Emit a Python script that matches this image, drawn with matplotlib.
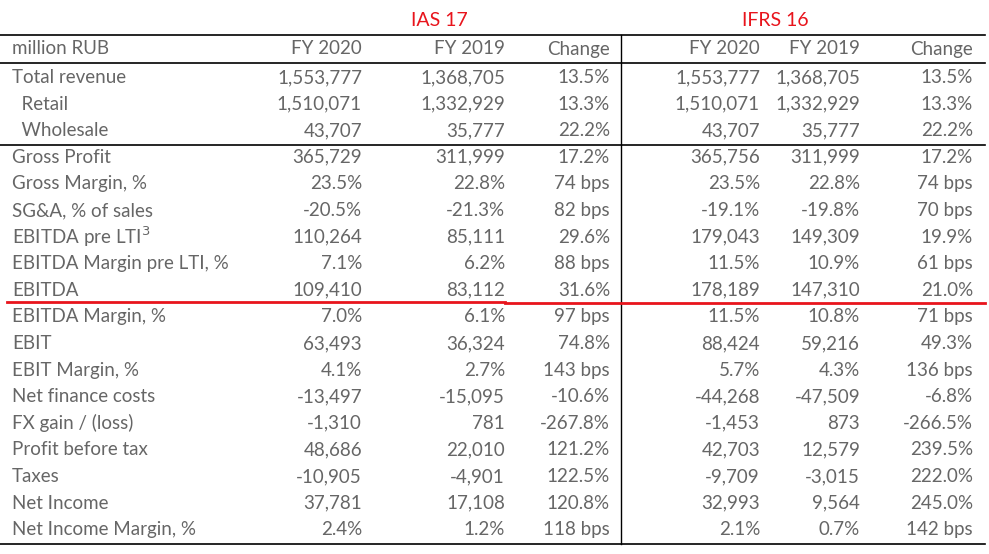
import matplotlib
matplotlib.use("Agg")
import matplotlib.pyplot as plt

groups = ["IAS 17", "IFRS 16"]
col_headers = ["FY 2020", "FY 2019", "Change", "FY 2020", "FY 2019", "Change"]
row_labels = ["Total revenue", "  Retail", "  Wholesale", "Gross Profit", "Gross Margin, %",
              "SG&A, % of sales", "EBITDA pre LTI$^3$", "EBITDA Margin pre LTI, %", "EBITDA",
              "EBITDA Margin, %", "EBIT", "EBIT Margin, %", "Net finance costs", "FX gain / (loss)",
              "Profit before tax", "Taxes", "Net Income", "Net Income Margin, %"]
ias_2020 = ["1,553,777", "1,510,071", "43,707", "365,729", "23.5%", "-20.5%", "110,264", "7.1%",
            "109,410", "7.0%", "63,493", "4.1%", "-13,497", "-1,310", "48,686", "-10,905", "37,781", "2.4%"]
ias_2019 = ["1,368,705", "1,332,929", "35,777", "311,999", "22.8%", "-21.3%", "85,111", "6.2%",
            "83,112", "6.1%", "36,324", "2.7%", "-15,095", "781", "22,010", "-4,901", "17,108", "1.2%"]
ias_chg = ["13.5%", "13.3%", "22.2%", "17.2%", "74 bps", "82 bps", "29.6%", "88 bps", "31.6%",
           "97 bps", "74.8%", "143 bps", "-10.6%", "-267.8%", "121.2%", "122.5%", "120.8%", "118 bps"]
ifrs_2020 = ["1,553,777", "1,510,071", "43,707", "365,756", "23.5%", "-19.1%", "179,043", "11.5%",
             "178,189", "11.5%", "88,424", "5.7%", "-44,268", "-1,453", "42,703", "-9,709", "32,993", "2.1%"]
ifrs_2019 = ["1,368,705", "1,332,929", "35,777", "311,999", "22.8%", "-19.8%", "149,309", "10.9%",
             "147,310", "10.8%", "59,216", "4.3%", "-47,509", "873", "12,579", "-3,015", "9,564", "0.7%"]
ifrs_chg = ["13.5%", "13.3%", "22.2%", "17.2%", "74 bps", "70 bps", "19.9%", "61 bps", "21.0%",
            "71 bps", "49.3%", "136 bps", "-6.8%", "-266.5%", "239.5%", "222.0%", "245.0%", "142 bps"]

W, H = 989, 554
fig = plt.figure(figsize=(W/100, H/100), dpi=100)
ax = fig.add_axes([0, 0, 1, 1])
ax.set_xlim(0, W); ax.set_ylim(H, 0); ax.axis("off")

font = "Lato"
gray = "#666666"
red = "#e8141c"
fs = 13.5

ax.text(439, 20, groups[0], ha="center", va="center", color=red, fontsize=14, family=font)
ax.text(775, 20, groups[1], ha="center", va="center", color=red, fontsize=14, family=font)

xs = [362, 505, 610, 760, 860, 973]
ax.text(12, 49, "million RUB", ha="left", va="center", color=gray, fontsize=fs, family=font)
for x, h in zip(xs, col_headers):
    ax.text(x, 49, h, ha="right", va="center", color=gray, fontsize=fs, family=font)

cols = [ias_2020, ias_2019, ias_chg, ifrs_2020, ifrs_2019, ifrs_chg]
y0, dy = 77.5, 26.6
for i, lab in enumerate(row_labels):
    y = y0 + i*dy
    ax.text(12, y, lab, ha="left", va="center", color=gray, fontsize=fs, family=font)
    for x, c in zip(xs, cols):
        ax.text(x, y, c[i], ha="right", va="center", color=gray, fontsize=fs, family=font)

lk = dict(color="black", lw=1.2)
ax.plot([0, 985], [35, 35], **lk)
ax.plot([0, 985], [63, 63], **lk)
ax.plot([0, 985], [145, 145], **lk)
ax.plot([0, 985], [544, 544], **lk)
ax.plot([621, 621], [35, 544], color="black", lw=1)
ax.plot([7, 505], [302, 302], color=red, lw=2)
ax.plot([505, 985], [303, 303], color=red, lw=2)

fig.savefig("out.png", dpi=100)
